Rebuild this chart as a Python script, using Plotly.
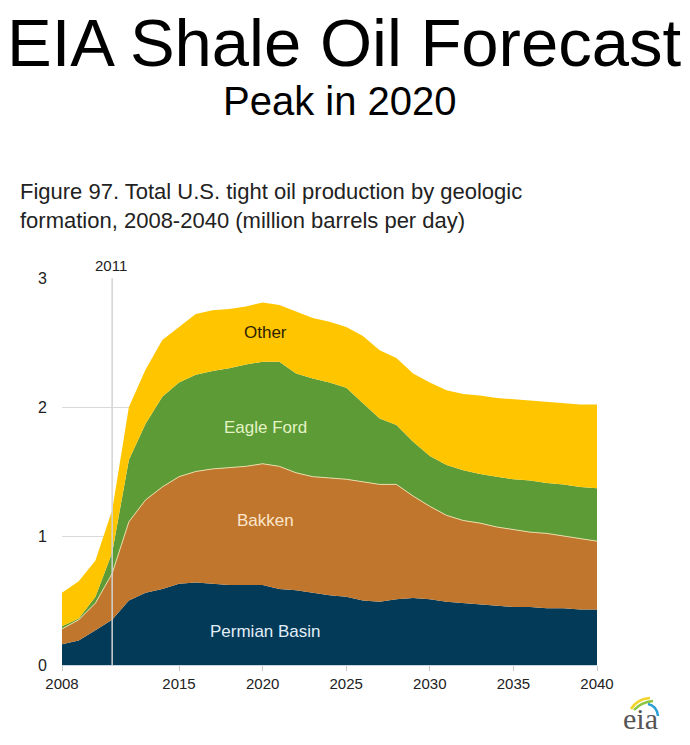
import plotly.graph_objects as go

years = list(range(2008, 2041))
permian = [0.16,0.19,0.27,0.35,0.50,0.56,0.59,0.63,0.64,0.63,0.62,0.62,0.62,0.59,0.58,0.56,0.54,
           0.53,0.50,0.49,0.51,0.52,0.51,0.49,0.48,0.47,0.46,0.45,0.45,0.44,0.44,0.43,0.43]
bakken = [0.12,0.16,0.21,0.36,0.61,0.72,0.79,0.83,0.86,0.89,0.91,0.92,0.94,0.95,0.91,0.90,0.91,
          0.91,0.92,0.91,0.89,0.79,0.72,0.67,0.64,0.63,0.61,0.60,0.58,0.58,0.56,0.55,0.53]
eagle_ford = [0.02,0.01,0.05,0.16,0.48,0.59,0.70,0.73,0.75,0.76,0.77,0.79,0.79,0.81,0.77,0.76,0.74,
              0.71,0.61,0.51,0.46,0.42,0.39,0.39,0.39,0.38,0.39,0.39,0.40,0.39,0.40,0.40,0.41]
other = [0.26,0.29,0.28,0.33,0.41,0.42,0.44,0.43,0.47,0.47,0.46,0.45,0.46,0.44,0.48,0.47,0.47,
         0.47,0.52,0.53,0.52,0.53,0.57,0.58,0.59,0.61,0.61,0.62,0.62,0.63,0.63,0.64,0.65]
x_tickvals = [2008, 2015, 2020, 2025, 2030, 2035, 2040]
y_tickvals = [0, 1, 2, 3]

SANS = "Liberation Sans, Arial"

series = [
    ("Permian Basin", permian, "#023a57", 0, "rgba(0,0,0,0)"),
    ("Bakken", bakken, "#c0762c", 1, "#e8dba8"),
    ("Eagle Ford", eagle_ford, "#5c9b35", 0, "rgba(0,0,0,0)"),
    ("Other", other, "#ffc600", 0, "rgba(0,0,0,0)"),
]

fig = go.Figure()
for name, vals, col, lw, lc in series:
    fig.add_trace(go.Scatter(
        x=years, y=vals, name=name, stackgroup="one", mode="lines",
        line=dict(width=lw, color=lc), fillcolor=col, hoverinfo="x+y+name",
    ))

# plot area: x 62..597, y 278..665 (pixels)
L, R, T, B = 62, 93, 278, 80
W, H = 690, 745
pw, ph = W - L - R, H - T - B

def px(x):
    return (x - L) / pw

def py(y):
    return (H - B - y) / ph

annotations = [
    dict(text="EIA Shale Oil Forecast", x=px(344), y=py(42), font=dict(size=67, family=SANS, color="#000")),
    dict(text="Peak in 2020", x=px(340), y=py(101), font=dict(size=40, family=SANS, color="#000")),
    dict(text="Figure 97. Total U.S. tight oil production by geologic", x=px(18), y=py(192), xanchor="left",
         font=dict(size=22, family=SANS, color="#222")),
    dict(text="formation, 2008-2040 (million barrels per day)", x=px(18), y=py(220), xanchor="left",
         font=dict(size=22, family=SANS, color="#222")),
    dict(text="2011", x=px(111), y=py(265), font=dict(size=15, family=SANS, color="#222")),
    dict(text="eia", x=px(640), y=py(718), font=dict(size=30, family="Liberation Serif, DejaVu Serif", color="#555")),
]
for a in annotations:
    a.setdefault("xanchor", "center")
    a.update(xref="paper", yref="paper", showarrow=False, yanchor="middle")
    fig.add_annotation(**a)

labels = [
    ("Other", 2020.2, 2.58, "#2e2200"),
    ("Eagle Ford", 2020.2, 1.84, "#e4f3c6"),
    ("Bakken", 2020.2, 1.12, "#fbe6cc"),
    ("Permian Basin", 2020.2, 0.26, "#e2eef7"),
]
for t, xx, yy, c in labels:
    fig.add_annotation(text=t, x=xx, y=yy, xref="x", yref="y", showarrow=False,
                       font=dict(size=17, family=SANS, color=c))

# 2011 marker line
fig.add_shape(type="line", x0=2011, x1=2011, y0=0, y1=3, xref="x", yref="y",
              line=dict(color="#d4d4d4", width=1.5), layer="above")

# eia logo arcs
def arc(x0, y0, cx, cy, x1, y1):
    return f"M {px(x0)} {py(y0)} Q {px(cx)} {py(cy)} {px(x1)} {py(y1)}"

for path, col in [
    (arc(631, 709, 637, 699, 650, 698), "#f2d32a"),
    (arc(634, 710, 641, 702, 653, 701), "#8cc63f"),
    (arc(648, 704, 657, 706, 658, 716), "#2a9fd6"),
]:
    fig.add_shape(type="path", path=path, xref="paper", yref="paper",
                  line=dict(color=col, width=2.5))

fig.update_layout(
    width=W, height=H, margin=dict(l=L, r=R, t=T, b=B),
    paper_bgcolor="white", plot_bgcolor="white", showlegend=False,
    xaxis=dict(range=[2008, 2040], tickvals=x_tickvals, ticks="outside", ticklen=5,
               tickcolor="#c8c8c8", showgrid=False, zeroline=False, showline=True,
               linecolor="#c8d6e0", linewidth=1,
               tickfont=dict(size=15, family=SANS, color="#222")),
    yaxis=dict(range=[0, 3], tickvals=y_tickvals, showgrid=True, gridcolor="#d9d9d9",
               gridwidth=1, zeroline=False, showline=False, ticks="",
               ticklabelstandoff=14,
               tickfont=dict(size=16, family=SANS, color="#222")),
)

fig.write_html("out.html")
